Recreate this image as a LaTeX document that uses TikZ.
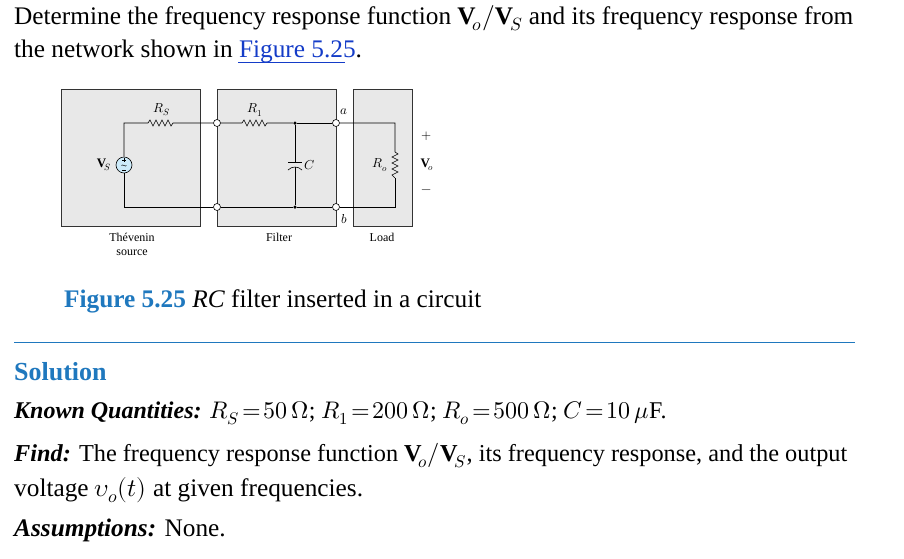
\documentclass[tikz,border=0pt]{standalone}
\usepackage{fontspec}
\setmainfont{Liberation Serif}
\usepackage{amsmath}
\usepackage{unicode-math}
\setmathfont{Latin Modern Math}
\definecolor{blu}{RGB}{31,120,190}
\definecolor{lnk}{RGB}{20,60,200}
\definecolor{boxg}{RGB}{232,232,232}
\definecolor{srcb}{RGB}{205,235,250}
\begin{document}
\begin{tikzpicture}[x=1pt,y=-1pt,
  box/.style={draw=black!80,fill=boxg,line width=0.6pt},
  wire/.style={line width=0.6pt},
  term/.style={circle,draw,fill=white,inner sep=0pt,minimum size=7pt,line width=0.6pt},
  dot/.style={circle,fill=black,inner sep=0pt,minimum size=3.5pt},
  lab/.style={inner sep=0pt,font=\fontsize{13}{14}\selectfont},
  txt/.style={anchor=west,inner sep=0pt,font=\fontsize{25.3}{28}\selectfont}]
\useasboundingbox (0,0) rectangle (904,558);
\fill[white] (0,0) rectangle (904,558);
% text
\node[txt] (t1) at (14,18) {Determine the frequency response function $\mathbf{V}_{\!o}/\mathbf{V}_{\!S}$ and its frequency response from};
\node[txt] (t2) at (14,51) {the network shown in \textcolor{lnk}{Figure 5.25}.};
\draw[lnk,line width=0.8pt] (238,62) -- (345,62);
% boxes
\node[box,minimum width=139pt,minimum height=137pt,anchor=north west] (bt) at (61,89) {};
\node[box,minimum width=119pt,minimum height=137pt,anchor=north west] (bf) at (217,89) {};
\node[box,minimum width=59pt,minimum height=137pt,anchor=north west] (bl) at (353,89) {};
% nodes
\node[circle,draw,fill=srcb,minimum size=16pt,inner sep=0pt,line width=0.6pt] (vs) at (124,165) {};
\draw[line width=0.5pt] (122,160) -- (126,160) (124,158) -- (124,162) (122,170) -- (126,170);
\draw[line width=0.5pt] (121.5,165.5) .. controls (123,163.5) and (125,167.5) .. (126.5,165.5);
\coordinate (tl) at (124,123);
\coordinate (bl0) at (124,207);
\node[term] (ta) at (217,123) {};
\node[term] (tb) at (217,207) {};
\node[dot] (ct) at (295,123) {};
\node[dot] (cb) at (295,207) {};
\node[term] (oa) at (336,123) {};
\node[term] (ob) at (336,207) {};
\coordinate (rt) at (395,123);
\coordinate (rb) at (395,207);
% wiring
\draw[wire] (vs) -- (tl) -- (148,123) -- (150,120) -- (153,126) -- (156,120) -- (159,126) -- (162,120) -- (165,126) -- (168,120) -- (171,126) -- (173,123) -- (ta);
\draw[wire] (ta) -- (242,123) -- (244,120) -- (247,126) -- (250,120) -- (253,126) -- (256,120) -- (259,126) -- (262,120) -- (265,126) -- (267,123) -- (ct);
\draw[wire] (ct) -- (oa);
\draw[wire] (vs) -- (bl0) -- (tb) -- (cb) -- (ob) -- (rb) -- (395,178);
\draw[wire] (oa) -- (rt) -- (395,152) -- (398,154) -- (392,157) -- (398,160) -- (392,163) -- (398,166) -- (392,169) -- (398,172) -- (392,175) -- (395,178);
\draw[wire] (ct) -- (295,162) (288,162) -- (302,162);
\draw[wire] (cb) -- (295,167);
\draw[wire] (288,170) .. controls (292,166) and (298,166) .. (302,170);
% labels
\node[lab] at (162,110) {$R_S$};
\node[lab] at (255,110) {$R_1$};
\node[lab] at (310,165) {$C$};
\node[lab] at (380,165) {$R_o$};
\node[lab] at (104,165) {$\mathbf{V}_{\!S}$};
\node[lab] at (344,112) {$a$};
\node[lab] at (344,219) {$b$};
\node[lab] at (427,136) {$+$};
\node[lab] at (427,165) {$\mathbf{V}_{\!o}$};
\node[lab] at (427,192) {$-$};
\node[lab,align=center,font=\fontsize{12}{14}\selectfont] at (132,244) {Thévenin\\source};
\node[lab,font=\fontsize{12}{14}\selectfont] at (279,237) {Filter};
\node[lab,font=\fontsize{12}{14}\selectfont] at (382,237) {Load};
\node[txt] (cap) at (64,301) {\textcolor{blu}{\textbf{Figure 5.25}} \textit{RC} filter inserted in a circuit};
\draw[blu,line width=0.8pt] (14,342) -- (855,342);
\node[txt,font=\fontsize{26}{30}\selectfont\bfseries,text=blu] (sol) at (14,372) {Solution};
\node[txt,font=\fontsize{24}{28}\selectfont] (k) at (14,413) {\textbf{\textit{Known Quantities:}} $R_S\!=\!50\,\Omega$; $R_1\!=\!200\,\Omega$; $R_o\!=\!500\,\Omega$; $C\!=\!10\,\mu$F.};
\node[txt,font=\fontsize{24.3}{28}\selectfont] (f1) at (14,456) {\textbf{\textit{Find:}} The frequency response function $\mathbf{V}_{\!o}/\mathbf{V}_{\!S}$, its frequency response, and the output};
\node[txt] (f2) at (14,490) {voltage $\upsilon_o(t)$ at given frequencies.};
\node[txt] (a) at (14,530) {\textbf{\textit{Assumptions:}} None.};
\end{tikzpicture}
\end{document}
